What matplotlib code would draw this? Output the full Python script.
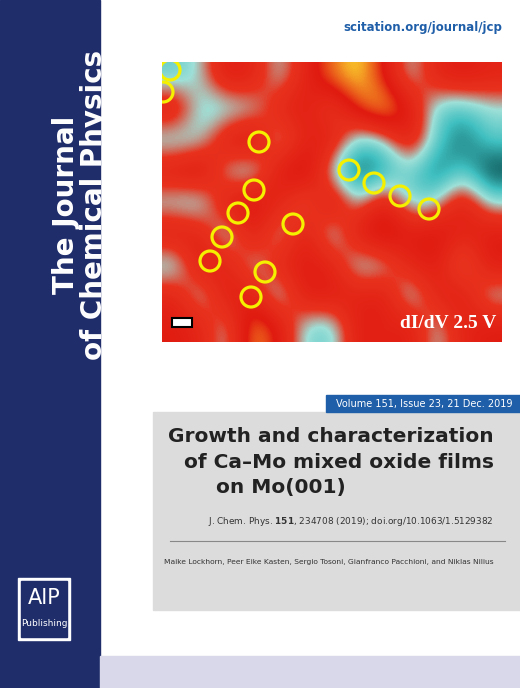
import numpy as np
import matplotlib
matplotlib.use("Agg")
import matplotlib.pyplot as plt
from matplotlib.colors import LinearSegmentedColormap
from matplotlib.patches import Rectangle, Circle

W, H = 520, 688
# heat-map levels (0 dark, 1 cyan, 2 red, 3 yellow)
grid = [
 [1.0,1.3,2.2,2.0,1.2,2.0,2.6,3.0,2.2,1.2,2.0,2.2,2.0],
 [2.2,1.1,1.0,1.2,2.0,2.2,1.4,2.4,3.0,2.2,1.0,0.9,1.2],
 [1.0,1.2,2.2,2.4,1.1,2.0,2.2,1.0,1.2,2.2,1.0,0.4,1.0],
 [2.2,2.4,1.2,1.0,2.2,2.6,1.1,0.3,0.6,1.1,0.4,1.0,0.2],
 [1.1,1.0,2.2,2.4,2.0,1.2,2.4,1.2,2.2,1.0,1.2,2.2,1.2],
 [2.2,2.0,1.0,2.2,1.1,2.2,1.0,2.2,2.6,2.2,2.4,2.0,2.2],
 [1.0,2.2,2.0,1.2,2.0,2.2,2.0,1.1,1.2,2.0,2.2,1.1,2.2],
 [2.0,1.1,2.2,2.0,1.0,2.2,2.2,2.0,2.2,1.0,2.0,2.2,1.2],
 [2.2,2.0,1.2,2.8,2.2,1.1,1.0,2.2,2.0,2.2,1.2,2.0,2.2],
]
circle_x = [8,1,97,92,76,131,60,48,103,89,187,212,238,267]
circle_y = [8,30,80,128,151,162,175,199,210,235,108,121,134,147]

cmap = LinearSegmentedColormap.from_list("stm", [
    (0.0,"#000000"),(0.12,"#0a4f50"),(0.28,"#3fbfc0"),(0.42,"#9fe0d8"),
    (0.55,"#e8321e"),(0.75,"#e01a10"),(0.88,"#f08020"),(1.0,"#ffff30")])

fig = plt.figure(figsize=(W/100, H/100), dpi=100)
bg = fig.add_axes([0,0,1,1]); bg.set_xlim(0,W); bg.set_ylim(H,0); bg.axis("off")
bg.add_patch(Rectangle((0,0),100,H,color="#1f2d6b"))
bg.add_patch(Rectangle((100,656),420,32,color="#d8d8ea"))
bg.add_patch(Rectangle((153,412),367,198,color="#dcdcdc"))
bg.add_patch(Rectangle((326,395),194,17,color="#1f5ea8"))
bg.text(80,205,"The Journal\nof Chemical Physics",rotation=90,color="white",
        fontsize=20,fontweight="bold",ha="center",va="center",linespacing=1.0)
bg.add_patch(Rectangle((18,578),52,62,color="white"))
bg.add_patch(Rectangle((21,581),46,56,color="#1f2d6b"))
bg.text(44,598,"AIP",color="white",fontsize=15,ha="center",va="center")
bg.text(44,624,"Publishing",color="white",fontsize=6.5,ha="center",va="center")
bg.text(502,28,"scitation.org/journal/jcp",color="#1f5ea8",fontsize=8.5,
        fontweight="bold",ha="right",va="center")
bg.text(512,404,"Volume 151, Issue 23, 21 Dec. 2019",color="white",fontsize=7,
        ha="right",va="center")
bg.text(494,437,"Growth and characterization",color="#222222",fontsize=14.5,
        fontweight="bold",ha="right",va="center")
bg.text(494,462,"of Ca–Mo mixed oxide films",color="#222222",fontsize=14.5,
        fontweight="bold",ha="right",va="center")
bg.text(216,487,"on Mo(001)",color="#222222",fontsize=14.5,
        fontweight="bold",ha="left",va="center")
bg.text(494,521,"J. Chem. Phys. $\\bf{151}$, 234708 (2019); doi.org/10.1063/1.5129382",
        color="#333333",fontsize=6.4,ha="right",va="center")
bg.plot([170,505],[541,541],color="#888888",lw=0.8)
bg.text(164,562,"Maike Lockhorn, Peer Eike Kasten, Sergio Tosoni, Gianfranco Pacchioni, and Niklas Nilius",
        color="#333333",fontsize=5.4,ha="left",va="center")

ax = fig.add_axes([162/W, 1-342/H, 340/W, 280/H])
ax.imshow(np.array(grid)/3.0, cmap=cmap, vmin=0, vmax=1, interpolation="bicubic",
          interpolation_stage="data", extent=[0,340,280,0], aspect="auto")
for x, y in zip(circle_x, circle_y):
    ax.add_patch(Circle((x,y),10,fill=False,ec="#f4f000",lw=2.3))
ax.add_patch(Rectangle((10,256),20,9,fc="white",ec="black",lw=1.5))
ax.text(334,262,"dI/dV 2.5 V",color="white",fontsize=14,fontweight="bold",
        family="Liberation Serif",ha="right",va="center")
ax.set_xlim(0,340); ax.set_ylim(280,0); ax.axis("off")
fig.savefig("out.png", dpi=100)
